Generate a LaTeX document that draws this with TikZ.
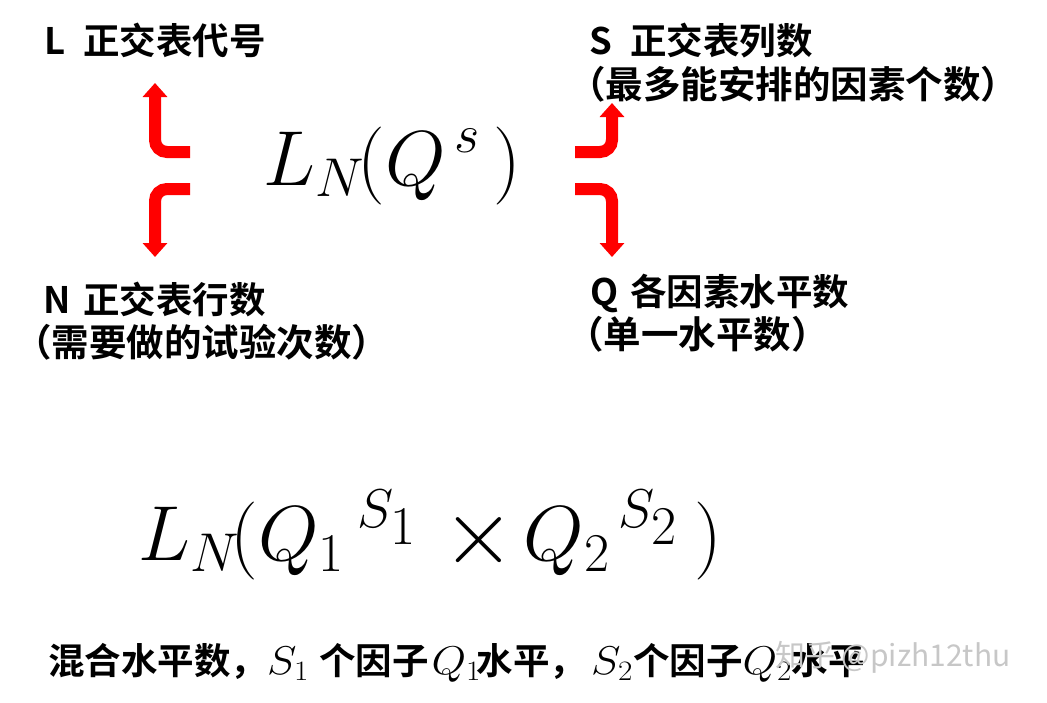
\RequirePackage{fix-cm}
\documentclass[tikz,border=0pt]{standalone}
\usepackage{fontspec}
\usepackage{graphicx}
\usetikzlibrary{arrows.meta}
\newfontfamily\cjk{Noto Sans CJK SC}[UprightFont=* Bold]
\newfontfamily\cjkl{Noto Sans CJK SC}
\definecolor{arrred}{RGB}{255,0,0}
\newcommand{\bigtimes}{\mathbin{\vcenter{\hbox{\scalebox{1.2}{$\times$}}}}}
\newcommand{\nm}[1]{\scalebox{1.22}[1.1]{$#1$}}
\tikzset{
  lbl/.style={anchor=base west, inner sep=0pt, font=\cjk\fontsize{36.5}{44}\selectfont},
  plbl/.style={anchor=base west, inner sep=0pt, font=\cjk\fontsize{37.5}{44}\selectfont},
  formula/.style={anchor=base west, inner sep=0pt, font=\fontsize{78}{80}\selectfont},
  bendarrow/.style={draw=arrred, line width=12pt, rounded corners=12pt,
    -{Triangle[width=24pt,length=14pt]}},
  wmark/.style={anchor=base west, inner sep=0pt, text=black!22, font=\cjkl\fontsize{30}{32}\selectfont}
}
\begin{document}
\begin{tikzpicture}[x=1pt,y=-1pt]
\useasboundingbox (0,0) rectangle (1047,702);
% labels
\node[lbl] (lblL) at (44,54) {\makebox[39pt][l]{L}正交表代号};
\node[lbl] (lblS) at (589,54) {\makebox[41pt][l]{S}正交表列数};
\node[plbl] (lblS2) at (568,98) {（最多能安排的因素个数）};
\node[lbl] (lblN) at (43,313) {\makebox[40pt][l]{N}正交表行数};
\node[plbl] (lblN2) at (14,356) {（需要做的试验次数）};
\node[lbl] (lblQ) at (590,305) {\makebox[40pt][l]{Q}各因素水平数};
\node[plbl] (lblQ2) at (566,348) {（单一水平数）};
% formulas
\node[formula] (f1) at (263,185) {$L_N\mkern-1.5mu({Q\mkern2mu}^{s}\mkern3mu)$};
\node[formula] (f2) at (138,560) {$L_N\mkern-2mu({Q_1\mkern3mu}^{S_{\scriptstyle 1}}\mkern2mu\bigtimes\mkern-2mu {Q_2\mkern2mu}^{S_{\scriptstyle 2}}\mkern4mu)$};
% bottom text
\node[lbl] (note) at (48,674) {混合水平数，\makebox[52pt][l]{\nm{S_1}}个因子\makebox[48pt][l]{\hspace{3pt}\nm{Q_1}}水平，\makebox[47pt][l]{\hspace{5pt}\nm{S_2}}个因子\makebox[49pt][l]{\nm{Q_2}}水平};
\node[wmark] (wm) at (775,666) {知乎 @pizh12thu};
% arrow coordinates
\coordinate (ulA) at (190,152); \coordinate (ulB) at (155,152); \coordinate (ulT) at (155,83);
\coordinate (llA) at (190,189); \coordinate (llB) at (155,189); \coordinate (llT) at (155,257);
\coordinate (urA) at (575,152); \coordinate (urB) at (612,152); \coordinate (urT) at (612,103);
\coordinate (lrA) at (575,189); \coordinate (lrB) at (612,189); \coordinate (lrT) at (612,257);
\draw[bendarrow] (ulA) -- (ulB) -- (ulT);
\draw[bendarrow] (llA) -- (llB) -- (llT);
\draw[bendarrow] (urA) -- (urB) -- (urT);
\draw[bendarrow] (lrA) -- (lrB) -- (lrT);
\end{tikzpicture}
\end{document}
